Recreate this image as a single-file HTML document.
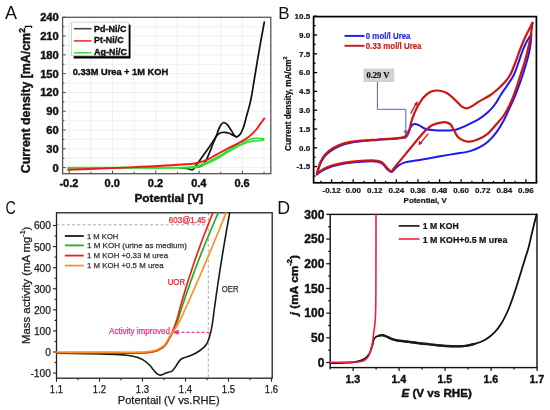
<!DOCTYPE html>
<html><head><meta charset="utf-8"><style>
html,body{margin:0;padding:0;background:#fff;}
svg{display:block;font-family:"Liberation Sans", sans-serif;will-change:transform;filter:blur(0.3px);}
</style></head><body>
<svg width="550" height="410" viewBox="0 0 550 410">
<rect width="550" height="410" fill="#fff"/>
<line x1="69.20" y1="17.30" x2="69.20" y2="173.70" stroke="#ececec" stroke-width="0.8"/>
<line x1="90.85" y1="17.30" x2="90.85" y2="173.70" stroke="#ececec" stroke-width="0.8"/>
<line x1="112.50" y1="17.30" x2="112.50" y2="173.70" stroke="#ececec" stroke-width="0.8"/>
<line x1="134.15" y1="17.30" x2="134.15" y2="173.70" stroke="#ececec" stroke-width="0.8"/>
<line x1="155.80" y1="17.30" x2="155.80" y2="173.70" stroke="#ececec" stroke-width="0.8"/>
<line x1="177.45" y1="17.30" x2="177.45" y2="173.70" stroke="#ececec" stroke-width="0.8"/>
<line x1="199.10" y1="17.30" x2="199.10" y2="173.70" stroke="#ececec" stroke-width="0.8"/>
<line x1="220.75" y1="17.30" x2="220.75" y2="173.70" stroke="#ececec" stroke-width="0.8"/>
<line x1="242.40" y1="17.30" x2="242.40" y2="173.70" stroke="#ececec" stroke-width="0.8"/>
<line x1="264.05" y1="17.30" x2="264.05" y2="173.70" stroke="#ececec" stroke-width="0.8"/>
<line x1="62.60" y1="167.60" x2="270.80" y2="167.60" stroke="#ececec" stroke-width="0.8"/>
<line x1="62.60" y1="158.21" x2="270.80" y2="158.21" stroke="#ececec" stroke-width="0.8"/>
<line x1="62.60" y1="148.81" x2="270.80" y2="148.81" stroke="#ececec" stroke-width="0.8"/>
<line x1="62.60" y1="139.42" x2="270.80" y2="139.42" stroke="#ececec" stroke-width="0.8"/>
<line x1="62.60" y1="130.02" x2="270.80" y2="130.02" stroke="#ececec" stroke-width="0.8"/>
<line x1="62.60" y1="120.63" x2="270.80" y2="120.63" stroke="#ececec" stroke-width="0.8"/>
<line x1="62.60" y1="111.23" x2="270.80" y2="111.23" stroke="#ececec" stroke-width="0.8"/>
<line x1="62.60" y1="101.84" x2="270.80" y2="101.84" stroke="#ececec" stroke-width="0.8"/>
<line x1="62.60" y1="92.44" x2="270.80" y2="92.44" stroke="#ececec" stroke-width="0.8"/>
<line x1="62.60" y1="83.05" x2="270.80" y2="83.05" stroke="#ececec" stroke-width="0.8"/>
<line x1="62.60" y1="73.66" x2="270.80" y2="73.66" stroke="#ececec" stroke-width="0.8"/>
<line x1="62.60" y1="64.26" x2="270.80" y2="64.26" stroke="#ececec" stroke-width="0.8"/>
<line x1="62.60" y1="54.87" x2="270.80" y2="54.87" stroke="#ececec" stroke-width="0.8"/>
<line x1="62.60" y1="45.47" x2="270.80" y2="45.47" stroke="#ececec" stroke-width="0.8"/>
<line x1="62.60" y1="36.08" x2="270.80" y2="36.08" stroke="#ececec" stroke-width="0.8"/>
<line x1="62.60" y1="26.68" x2="270.80" y2="26.68" stroke="#ececec" stroke-width="0.8"/>
<line x1="62.60" y1="167.60" x2="65.60" y2="167.60" stroke="#444" stroke-width="1"/>
<line x1="62.60" y1="158.21" x2="64.40" y2="158.21" stroke="#444" stroke-width="1"/>
<line x1="62.60" y1="148.81" x2="65.60" y2="148.81" stroke="#444" stroke-width="1"/>
<line x1="62.60" y1="139.42" x2="64.40" y2="139.42" stroke="#444" stroke-width="1"/>
<line x1="62.60" y1="130.02" x2="65.60" y2="130.02" stroke="#444" stroke-width="1"/>
<line x1="62.60" y1="120.63" x2="64.40" y2="120.63" stroke="#444" stroke-width="1"/>
<line x1="62.60" y1="111.23" x2="65.60" y2="111.23" stroke="#444" stroke-width="1"/>
<line x1="62.60" y1="101.84" x2="64.40" y2="101.84" stroke="#444" stroke-width="1"/>
<line x1="62.60" y1="92.44" x2="65.60" y2="92.44" stroke="#444" stroke-width="1"/>
<line x1="62.60" y1="83.05" x2="64.40" y2="83.05" stroke="#444" stroke-width="1"/>
<line x1="62.60" y1="73.66" x2="65.60" y2="73.66" stroke="#444" stroke-width="1"/>
<line x1="62.60" y1="64.26" x2="64.40" y2="64.26" stroke="#444" stroke-width="1"/>
<line x1="62.60" y1="54.87" x2="65.60" y2="54.87" stroke="#444" stroke-width="1"/>
<line x1="62.60" y1="45.47" x2="64.40" y2="45.47" stroke="#444" stroke-width="1"/>
<line x1="62.60" y1="36.08" x2="65.60" y2="36.08" stroke="#444" stroke-width="1"/>
<line x1="62.60" y1="26.68" x2="64.40" y2="26.68" stroke="#444" stroke-width="1"/>
<line x1="62.60" y1="17.29" x2="65.60" y2="17.29" stroke="#444" stroke-width="1"/>
<line x1="69.20" y1="173.70" x2="69.20" y2="170.70" stroke="#444" stroke-width="1"/>
<line x1="90.85" y1="173.70" x2="90.85" y2="171.90" stroke="#444" stroke-width="1"/>
<line x1="112.50" y1="173.70" x2="112.50" y2="170.70" stroke="#444" stroke-width="1"/>
<line x1="134.15" y1="173.70" x2="134.15" y2="171.90" stroke="#444" stroke-width="1"/>
<line x1="155.80" y1="173.70" x2="155.80" y2="170.70" stroke="#444" stroke-width="1"/>
<line x1="177.45" y1="173.70" x2="177.45" y2="171.90" stroke="#444" stroke-width="1"/>
<line x1="199.10" y1="173.70" x2="199.10" y2="170.70" stroke="#444" stroke-width="1"/>
<line x1="220.75" y1="173.70" x2="220.75" y2="171.90" stroke="#444" stroke-width="1"/>
<line x1="242.40" y1="173.70" x2="242.40" y2="170.70" stroke="#444" stroke-width="1"/>
<line x1="264.05" y1="173.70" x2="264.05" y2="171.90" stroke="#444" stroke-width="1"/>
<rect x="62.6" y="17.3" width="208.20000000000002" height="156.39999999999998" fill="none" stroke="#555" stroke-width="1.3"/>
<text x="58.80" y="171.50" font-size="11.2" fill="#111" font-weight="bold" stroke="#111" stroke-width="0.4" text-anchor="end">0</text>
<text x="58.80" y="152.71" font-size="11.2" fill="#111" font-weight="bold" stroke="#111" stroke-width="0.4" text-anchor="end">30</text>
<text x="58.80" y="133.92" font-size="11.2" fill="#111" font-weight="bold" stroke="#111" stroke-width="0.4" text-anchor="end">60</text>
<text x="58.80" y="115.13" font-size="11.2" fill="#111" font-weight="bold" stroke="#111" stroke-width="0.4" text-anchor="end">90</text>
<text x="58.80" y="96.34" font-size="11.2" fill="#111" font-weight="bold" stroke="#111" stroke-width="0.4" text-anchor="end">120</text>
<text x="58.80" y="77.56" font-size="11.2" fill="#111" font-weight="bold" stroke="#111" stroke-width="0.4" text-anchor="end">150</text>
<text x="58.80" y="58.77" font-size="11.2" fill="#111" font-weight="bold" stroke="#111" stroke-width="0.4" text-anchor="end">180</text>
<text x="58.80" y="39.98" font-size="11.2" fill="#111" font-weight="bold" stroke="#111" stroke-width="0.4" text-anchor="end">210</text>
<text x="58.80" y="21.19" font-size="11.2" fill="#111" font-weight="bold" stroke="#111" stroke-width="0.4" text-anchor="end">240</text>
<text x="68.90" y="186.90" font-size="11" fill="#111" font-weight="bold" stroke="#111" stroke-width="0.4" text-anchor="middle">-0.2</text>
<text x="112.20" y="186.90" font-size="11" fill="#111" font-weight="bold" stroke="#111" stroke-width="0.4" text-anchor="middle">0.0</text>
<text x="155.50" y="186.90" font-size="11" fill="#111" font-weight="bold" stroke="#111" stroke-width="0.4" text-anchor="middle">0.2</text>
<text x="198.80" y="186.90" font-size="11" fill="#111" font-weight="bold" stroke="#111" stroke-width="0.4" text-anchor="middle">0.4</text>
<text x="242.10" y="186.90" font-size="11" fill="#111" font-weight="bold" stroke="#111" stroke-width="0.4" text-anchor="middle">0.6</text>
<text x="134.50" y="201.80" font-size="11" fill="#111" font-weight="bold" stroke="#111" stroke-width="0.4" textLength="68.80" lengthAdjust="spacingAndGlyphs">Potential [V]</text>
<text x="30.4" y="173.2" transform="rotate(-90 30.4 173.2)" font-size="13.6" font-weight="bold" fill="#111" stroke="#111" stroke-width="0.4" textLength="147.6" lengthAdjust="spacingAndGlyphs">Current density [mA/cm<tspan font-size="9.5" dy="-5.8">2</tspan><tspan font-size="8" dy="5.8">]</tspan></text>
<rect x="73.7" y="24.6" width="56.8" height="33.9" fill="#000"/>
<rect x="71.5" y="22.2" width="56.8" height="33.6" fill="#fff" stroke="#c8c8c8" stroke-width="0.8"/>
<line x1="74.00" y1="28.70" x2="91.50" y2="28.70" stroke="#444" stroke-width="1.6"/>
<line x1="74.00" y1="40.90" x2="91.50" y2="40.90" stroke="#f03030" stroke-width="1.6"/>
<line x1="74.00" y1="52.80" x2="91.50" y2="52.80" stroke="#40e040" stroke-width="1.6"/>
<text x="94.00" y="31.50" font-size="9" fill="#111" font-weight="bold" stroke="#111" stroke-width="0.4" textLength="32.40" lengthAdjust="spacingAndGlyphs">Pd-Ni/C</text>
<text x="94.00" y="42.80" font-size="9" fill="#111" font-weight="bold" stroke="#111" stroke-width="0.4" textLength="29.60" lengthAdjust="spacingAndGlyphs">Pt-Ni/C</text>
<text x="94.00" y="54.70" font-size="9" fill="#111" font-weight="bold" stroke="#111" stroke-width="0.4" textLength="32.89" lengthAdjust="spacingAndGlyphs">Ag-Ni/C</text>
<text x="72.70" y="74.70" font-size="9.9" fill="#111" font-weight="bold" stroke="#111" stroke-width="0.4" textLength="95.40" lengthAdjust="spacingAndGlyphs">0.33M Urea + 1M KOH</text>
<text x="5.00" y="18.70" font-size="18" fill="#111">A</text>
<path d="M180.00,168.00 C182.67,168.20 185.74,168.21 188.00,168.60 C189.70,168.89 191.12,170.22 192.40,169.80 C193.84,169.32 194.79,166.75 196.00,165.20 C197.23,163.62 198.26,162.33 199.70,160.40 C201.84,157.53 205.09,153.08 207.50,149.60 C209.69,146.43 211.98,142.88 213.60,140.40 C214.69,138.73 215.33,137.39 216.30,136.20 C217.14,135.17 218.00,134.22 219.00,133.60 C219.92,133.03 221.03,132.71 222.00,132.50 C222.86,132.31 223.55,132.23 224.50,132.30 C225.79,132.39 227.53,132.77 229.00,133.30 C230.54,133.85 232.14,134.96 233.50,135.60 C234.59,136.12 235.50,136.47 236.50,136.90" fill="none" stroke="#111" stroke-width="1.7" stroke-linejoin="round" stroke-linecap="round"/>
<path d="M196.00,167.40 C198.00,166.87 200.51,166.68 202.00,165.80 C203.13,165.13 203.78,164.19 204.50,163.20 C205.26,162.16 205.72,161.09 206.40,159.70 C207.35,157.76 208.43,155.17 209.50,152.60 C210.75,149.61 212.18,145.76 213.40,142.80 C214.42,140.32 215.44,138.19 216.30,136.00 C217.09,134.00 217.63,132.06 218.40,130.20 C219.14,128.40 219.77,126.34 220.80,125.00 C221.65,123.90 222.75,122.60 223.80,122.50 C224.82,122.41 225.97,123.37 227.00,124.30 C228.41,125.58 229.77,128.13 231.00,130.00 C232.15,131.76 233.10,134.00 234.20,135.20 C234.95,136.02 235.63,136.93 236.50,136.90 C237.70,136.86 239.55,134.93 240.70,133.40 C242.04,131.62 242.83,129.05 243.70,126.60 C244.66,123.89 245.34,120.54 246.10,117.80 C246.77,115.39 247.32,113.54 248.00,111.00 C248.86,107.78 249.90,104.23 250.80,100.00 C252.00,94.34 253.08,86.67 254.20,80.00 C255.32,73.33 256.38,66.62 257.50,60.00 C258.61,53.46 259.75,46.89 260.90,40.50 C262.02,34.30 263.17,28.30 264.30,22.20" fill="none" stroke="#111" stroke-width="1.7" stroke-linejoin="round" stroke-linecap="round"/>
<path d="M68.10,167.50 C85.40,167.50 101.66,167.53 120.00,167.50 C140.68,167.47 173.68,167.93 186.00,167.30 C190.81,167.05 192.70,167.05 196.00,166.30 C199.43,165.52 202.83,164.04 206.20,162.60 C209.67,161.12 213.11,159.36 216.50,157.50 C219.95,155.60 223.29,153.35 226.70,151.30 C230.12,149.25 234.59,146.14 237.00,145.20 C238.18,144.74 238.67,145.03 239.80,144.60 C241.79,143.84 245.27,141.23 247.60,140.20 C249.35,139.42 250.77,138.92 252.40,138.60 C254.00,138.29 255.56,138.27 257.30,138.30 C259.29,138.33 261.57,138.70 263.70,138.90" fill="none" stroke="#30e030" stroke-width="1.6" stroke-linejoin="round" stroke-linecap="round"/>
<path d="M263.70,139.90 C261.57,140.27 259.30,140.81 257.30,141.00 C255.56,141.17 254.01,140.88 252.40,141.10 C250.78,141.32 249.37,141.71 247.60,142.30 C245.29,143.07 241.74,144.71 239.80,145.60 C238.62,146.14 238.22,146.35 237.00,147.00 C234.64,148.26 230.11,150.81 226.70,152.80 C223.27,154.80 219.95,157.12 216.50,159.00 C213.12,160.84 209.67,162.57 206.20,164.00 C202.83,165.39 199.43,166.86 196.00,167.50 C192.70,168.12 190.80,167.80 186.00,167.90 C173.67,168.16 140.68,167.98 120.00,168.00 C101.66,168.01 85.40,168.00 68.10,168.00" fill="none" stroke="#30e030" stroke-width="1.6" stroke-linejoin="round" stroke-linecap="round"/>
<path d="M68.10,169.80 C88.73,169.00 109.89,168.35 130.00,167.40 C149.14,166.50 174.92,165.22 186.00,164.30 C190.69,163.91 192.68,163.87 196.00,163.20 C199.41,162.52 202.86,161.58 206.20,160.20 C209.70,158.75 213.08,156.47 216.50,154.60 C219.91,152.74 223.07,150.91 226.70,149.00 C230.78,146.86 235.81,144.67 239.80,142.40 C243.33,140.39 246.66,138.47 249.50,136.20 C252.09,134.13 254.30,131.83 256.30,129.50 C258.17,127.32 259.75,124.71 261.20,122.70 C262.35,121.10 263.27,119.83 264.30,118.40" fill="none" stroke="#f01818" stroke-width="1.9" stroke-linejoin="round" stroke-linecap="round"/>
<line x1="313.60" y1="175.99" x2="315.60" y2="175.99" stroke="#000" stroke-width="1.3"/>
<line x1="313.60" y1="166.59" x2="317.10" y2="166.59" stroke="#000" stroke-width="1.3"/>
<line x1="313.60" y1="157.20" x2="315.60" y2="157.20" stroke="#000" stroke-width="1.3"/>
<line x1="313.60" y1="147.80" x2="317.10" y2="147.80" stroke="#000" stroke-width="1.3"/>
<line x1="313.60" y1="138.40" x2="315.60" y2="138.40" stroke="#000" stroke-width="1.3"/>
<line x1="313.60" y1="129.01" x2="317.10" y2="129.01" stroke="#000" stroke-width="1.3"/>
<line x1="313.60" y1="119.61" x2="315.60" y2="119.61" stroke="#000" stroke-width="1.3"/>
<line x1="313.60" y1="110.21" x2="317.10" y2="110.21" stroke="#000" stroke-width="1.3"/>
<line x1="313.60" y1="100.81" x2="315.60" y2="100.81" stroke="#000" stroke-width="1.3"/>
<line x1="313.60" y1="91.42" x2="317.10" y2="91.42" stroke="#000" stroke-width="1.3"/>
<line x1="313.60" y1="82.02" x2="315.60" y2="82.02" stroke="#000" stroke-width="1.3"/>
<line x1="313.60" y1="72.62" x2="317.10" y2="72.62" stroke="#000" stroke-width="1.3"/>
<line x1="313.60" y1="63.22" x2="315.60" y2="63.22" stroke="#000" stroke-width="1.3"/>
<line x1="313.60" y1="53.83" x2="317.10" y2="53.83" stroke="#000" stroke-width="1.3"/>
<line x1="313.60" y1="44.43" x2="315.60" y2="44.43" stroke="#000" stroke-width="1.3"/>
<line x1="313.60" y1="35.03" x2="317.10" y2="35.03" stroke="#000" stroke-width="1.3"/>
<line x1="313.60" y1="25.63" x2="315.60" y2="25.63" stroke="#000" stroke-width="1.3"/>
<line x1="313.60" y1="16.24" x2="317.10" y2="16.24" stroke="#000" stroke-width="1.3"/>
<line x1="320.82" y1="182.80" x2="320.82" y2="180.80" stroke="#000" stroke-width="1.3"/>
<line x1="331.61" y1="182.80" x2="331.61" y2="179.30" stroke="#000" stroke-width="1.3"/>
<line x1="342.41" y1="182.80" x2="342.41" y2="180.80" stroke="#000" stroke-width="1.3"/>
<line x1="353.20" y1="182.80" x2="353.20" y2="179.30" stroke="#000" stroke-width="1.3"/>
<line x1="363.99" y1="182.80" x2="363.99" y2="180.80" stroke="#000" stroke-width="1.3"/>
<line x1="374.79" y1="182.80" x2="374.79" y2="179.30" stroke="#000" stroke-width="1.3"/>
<line x1="385.58" y1="182.80" x2="385.58" y2="180.80" stroke="#000" stroke-width="1.3"/>
<line x1="396.38" y1="182.80" x2="396.38" y2="179.30" stroke="#000" stroke-width="1.3"/>
<line x1="407.17" y1="182.80" x2="407.17" y2="180.80" stroke="#000" stroke-width="1.3"/>
<line x1="417.96" y1="182.80" x2="417.96" y2="179.30" stroke="#000" stroke-width="1.3"/>
<line x1="428.76" y1="182.80" x2="428.76" y2="180.80" stroke="#000" stroke-width="1.3"/>
<line x1="439.55" y1="182.80" x2="439.55" y2="179.30" stroke="#000" stroke-width="1.3"/>
<line x1="450.35" y1="182.80" x2="450.35" y2="180.80" stroke="#000" stroke-width="1.3"/>
<line x1="461.14" y1="182.80" x2="461.14" y2="179.30" stroke="#000" stroke-width="1.3"/>
<line x1="471.93" y1="182.80" x2="471.93" y2="180.80" stroke="#000" stroke-width="1.3"/>
<line x1="482.73" y1="182.80" x2="482.73" y2="179.30" stroke="#000" stroke-width="1.3"/>
<line x1="493.52" y1="182.80" x2="493.52" y2="180.80" stroke="#000" stroke-width="1.3"/>
<line x1="504.32" y1="182.80" x2="504.32" y2="179.30" stroke="#000" stroke-width="1.3"/>
<line x1="515.11" y1="182.80" x2="515.11" y2="180.80" stroke="#000" stroke-width="1.3"/>
<line x1="525.90" y1="182.80" x2="525.90" y2="179.30" stroke="#000" stroke-width="1.3"/>
<line x1="536.70" y1="182.80" x2="536.70" y2="180.80" stroke="#000" stroke-width="1.3"/>
<rect x="313.6" y="16.6" width="222.79999999999995" height="166.20000000000002" fill="none" stroke="#000" stroke-width="1.7"/>
<text x="310.20" y="169.29" font-size="8" fill="#111" font-weight="bold" stroke="#111" stroke-width="0.2" text-anchor="end" transform-origin="0 0">-1.5</text>
<text x="310.20" y="150.50" font-size="8" fill="#111" font-weight="bold" stroke="#111" stroke-width="0.2" text-anchor="end" transform-origin="0 0">0.0</text>
<text x="310.20" y="131.71" font-size="8" fill="#111" font-weight="bold" stroke="#111" stroke-width="0.2" text-anchor="end" transform-origin="0 0">1.5</text>
<text x="310.20" y="112.91" font-size="8" fill="#111" font-weight="bold" stroke="#111" stroke-width="0.2" text-anchor="end" transform-origin="0 0">3.0</text>
<text x="310.20" y="94.12" font-size="8" fill="#111" font-weight="bold" stroke="#111" stroke-width="0.2" text-anchor="end" transform-origin="0 0">4.5</text>
<text x="310.20" y="75.32" font-size="8" fill="#111" font-weight="bold" stroke="#111" stroke-width="0.2" text-anchor="end" transform-origin="0 0">6.0</text>
<text x="310.20" y="56.53" font-size="8" fill="#111" font-weight="bold" stroke="#111" stroke-width="0.2" text-anchor="end" transform-origin="0 0">7.5</text>
<text x="310.20" y="37.73" font-size="8" fill="#111" font-weight="bold" stroke="#111" stroke-width="0.2" text-anchor="end" transform-origin="0 0">9.0</text>
<text x="310.20" y="18.94" font-size="8" fill="#111" font-weight="bold" stroke="#111" stroke-width="0.2" text-anchor="end" transform-origin="0 0">10.5</text>
<text x="331.61" y="193.00" font-size="8" fill="#111" font-weight="bold" stroke="#111" stroke-width="0.2" text-anchor="middle">-0.12</text>
<text x="353.20" y="193.00" font-size="8" fill="#111" font-weight="bold" stroke="#111" stroke-width="0.2" text-anchor="middle">0.00</text>
<text x="374.79" y="193.00" font-size="8" fill="#111" font-weight="bold" stroke="#111" stroke-width="0.2" text-anchor="middle">0.12</text>
<text x="396.38" y="193.00" font-size="8" fill="#111" font-weight="bold" stroke="#111" stroke-width="0.2" text-anchor="middle">0.24</text>
<text x="417.96" y="193.00" font-size="8" fill="#111" font-weight="bold" stroke="#111" stroke-width="0.2" text-anchor="middle">0.36</text>
<text x="439.55" y="193.00" font-size="8" fill="#111" font-weight="bold" stroke="#111" stroke-width="0.2" text-anchor="middle">0.48</text>
<text x="461.14" y="193.00" font-size="8" fill="#111" font-weight="bold" stroke="#111" stroke-width="0.2" text-anchor="middle">0.60</text>
<text x="482.73" y="193.00" font-size="8" fill="#111" font-weight="bold" stroke="#111" stroke-width="0.2" text-anchor="middle">0.72</text>
<text x="504.32" y="193.00" font-size="8" fill="#111" font-weight="bold" stroke="#111" stroke-width="0.2" text-anchor="middle">0.84</text>
<text x="525.90" y="193.00" font-size="8" fill="#111" font-weight="bold" stroke="#111" stroke-width="0.2" text-anchor="middle">0.96</text>
<text x="403.60" y="202.60" font-size="7.5" fill="#111" font-weight="bold" stroke="#111" stroke-width="0.2" textLength="43.20" lengthAdjust="spacingAndGlyphs">Potential, V</text>
<text x="290.7" y="151" transform="rotate(-90 290.7 151)" font-size="8.2" font-weight="bold" fill="#111" stroke="#111" stroke-width="0.2" textLength="94.5" lengthAdjust="spacingAndGlyphs">Current density, mA/cm<tspan font-size="5.5" dy="-3.5">2</tspan></text>
<text x="278.30" y="19.10" font-size="17" fill="#111">B</text>
<line x1="344.50" y1="35.90" x2="364.50" y2="35.90" stroke="#2020f0" stroke-width="2"/>
<line x1="344.50" y1="45.80" x2="364.50" y2="45.80" stroke="#c81e1e" stroke-width="2"/>
<text x="365.80" y="38.80" font-size="8.5" fill="#2a2af0" font-weight="bold" stroke="#2a2af0" stroke-width="0.2" textLength="44.70" lengthAdjust="spacingAndGlyphs">0 mol/l Urea</text>
<text x="365.80" y="48.80" font-size="8.5" fill="#c82020" font-weight="bold" stroke="#c82020" stroke-width="0.2" textLength="55.70" lengthAdjust="spacingAndGlyphs">0.33 mol/l Urea</text>
<rect x="363.5" y="68.5" width="30.7" height="13.5" fill="#d2d2d2"/>
<text x="366.40" y="78.40" font-size="8.8" fill="#111" font-weight="bold" stroke="#111" stroke-width="0.2" font-family='"Liberation Serif", serif' textLength="23.10" lengthAdjust="spacingAndGlyphs">0.29 V</text>
<polyline points="377.4,82 377.4,109.3 405.8,109.3 405.8,132" fill="none" stroke="#4a62d8" stroke-width="1"/>
<path d="M403.6,130.5 L405.8,135.5 L408,130.5 Z" fill="#4a62d8"/>
<path d="M316.90,174.40 C318.07,170.83 318.91,166.94 320.40,163.70 C321.76,160.73 323.19,157.98 325.30,155.60 C327.51,153.11 330.42,151.07 333.50,149.20 C336.88,147.15 340.67,145.31 344.90,144.00 C349.74,142.50 355.67,141.88 361.10,141.20 C366.53,140.52 371.94,140.31 377.50,139.90 C383.24,139.48 390.48,139.08 395.00,138.70 C397.86,138.46 400.07,138.29 402.00,138.00 C403.37,137.79 404.54,137.88 405.50,137.30 C406.47,136.72 407.05,135.76 407.80,134.50 C408.99,132.50 409.72,127.77 411.20,126.00 C412.18,124.83 413.36,124.08 414.60,123.90 C415.91,123.71 417.35,124.45 418.90,125.10 C420.96,125.96 423.22,128.15 425.70,129.00 C428.30,129.89 431.11,129.96 434.20,130.20 C437.85,130.49 442.54,130.46 446.20,130.40 C449.28,130.35 452.01,130.53 454.70,130.00 C457.27,129.49 459.54,128.42 462.00,127.40 C464.63,126.31 467.28,124.93 470.00,123.60 C472.87,122.20 475.94,120.97 478.80,119.20 C481.82,117.33 484.91,115.06 487.60,112.60 C490.28,110.15 492.73,107.42 494.90,104.50 C497.10,101.55 498.65,98.18 500.70,95.00 C502.84,91.68 505.30,88.35 507.50,85.00 C509.67,81.69 512.00,78.62 513.80,75.00 C515.71,71.15 516.98,66.67 518.50,62.50 C520.01,58.34 521.37,53.79 522.90,50.00 C524.22,46.72 525.52,43.74 527.00,41.00 C528.34,38.53 529.87,36.47 531.30,34.20" fill="none" stroke="#1a1aee" stroke-width="2.0" stroke-linejoin="round" stroke-linecap="round"/>
<path d="M531.30,34.20 C531.13,36.80 531.08,39.39 530.80,42.00 C530.52,44.66 530.19,47.05 529.60,50.00 C528.86,53.72 527.65,58.35 526.50,62.50 C525.35,66.68 523.98,71.08 522.70,75.00 C521.55,78.53 520.41,81.67 519.20,85.00 C517.98,88.34 516.86,91.46 515.40,95.00 C513.70,99.12 511.48,103.88 509.50,108.20 C507.58,112.41 505.88,116.59 503.70,120.60 C501.51,124.62 499.13,128.71 496.40,132.30 C493.75,135.79 490.71,139.25 487.60,141.90 C484.81,144.28 481.82,146.14 478.80,147.70 C475.94,149.17 473.37,150.15 470.00,151.10 C465.71,152.30 460.00,152.93 455.00,153.80 C450.00,154.67 445.47,155.35 440.00,156.30 C433.36,157.46 424.36,159.20 418.00,160.30 C413.13,161.14 408.65,161.30 405.10,162.40 C402.40,163.24 400.16,164.33 398.30,165.60 C396.75,166.66 395.69,168.06 394.50,169.20 C393.44,170.22 392.63,172.01 391.50,172.10 C390.25,172.20 388.68,170.43 387.30,169.20 C385.64,167.72 384.20,164.86 382.40,163.60 C380.89,162.54 379.66,162.10 377.50,161.70 C373.68,160.99 366.56,161.38 361.10,161.70 C355.62,162.02 350.13,162.61 344.70,163.60 C339.23,164.60 332.56,166.16 328.40,167.70 C325.64,168.72 323.80,169.82 321.80,171.00 C320.00,172.06 318.53,173.27 316.90,174.40" fill="none" stroke="#1a1aee" stroke-width="2.0" stroke-linejoin="round" stroke-linecap="round"/>
<path d="M316.90,173.40 C318.00,169.83 318.75,165.95 320.20,162.70 C321.54,159.70 322.99,156.91 325.10,154.50 C327.31,151.98 330.20,149.85 333.30,148.00 C336.67,145.99 340.47,144.31 344.70,143.10 C349.59,141.70 355.62,141.20 361.10,140.60 C366.55,140.00 371.94,139.86 377.50,139.50 C383.24,139.13 390.48,138.80 395.00,138.40 C397.86,138.15 400.17,138.03 402.00,137.60 C403.23,137.31 404.11,137.03 405.00,136.50 C405.87,135.99 406.63,135.42 407.30,134.50 C408.21,133.26 408.81,131.43 409.50,129.40 C410.45,126.59 410.91,122.61 412.10,119.10 C413.41,115.23 415.19,110.94 417.20,107.20 C419.17,103.55 421.48,99.58 424.00,96.90 C426.09,94.68 428.40,92.86 430.80,91.80 C432.99,90.84 435.29,90.42 437.70,90.50 C440.40,90.59 443.50,91.35 446.20,92.70 C449.20,94.20 452.07,97.16 454.70,99.50 C457.18,101.70 459.33,104.80 461.60,106.30 C463.32,107.43 465.00,108.40 466.70,108.40 C468.40,108.40 470.02,107.25 471.80,106.30 C474.01,105.12 476.13,103.24 478.80,101.60 C482.17,99.52 487.06,97.35 490.50,95.00 C493.52,92.95 496.02,90.73 498.50,88.50 C500.84,86.39 503.04,84.29 505.00,82.00 C506.90,79.78 508.55,77.72 510.10,75.00 C511.96,71.73 513.42,67.51 515.00,63.50 C516.69,59.20 518.12,54.56 519.90,50.00 C521.77,45.23 523.84,40.13 526.00,35.50 C528.05,31.09 530.33,27.03 532.50,22.80" fill="none" stroke="#cc1515" stroke-width="2.2" stroke-linejoin="round" stroke-linecap="round"/>
<path d="M532.50,22.80 C531.83,27.53 531.30,32.38 530.50,37.00 C529.73,41.44 528.81,45.72 527.80,50.00 C526.81,54.22 525.71,58.35 524.50,62.50 C523.28,66.68 521.76,71.07 520.50,75.00 C519.37,78.52 518.40,81.67 517.30,85.00 C516.20,88.34 515.18,91.68 513.90,95.00 C512.59,98.41 511.17,101.84 509.50,105.20 C507.78,108.67 505.91,112.29 503.70,115.50 C501.53,118.65 498.99,121.35 496.40,124.30 C493.64,127.44 490.73,131.30 487.60,133.80 C484.82,136.02 481.81,137.59 478.80,138.90 C475.94,140.15 472.23,141.30 470.00,141.60 C468.69,141.78 467.98,141.73 466.80,141.50 C465.25,141.20 463.19,140.49 461.60,139.60 C460.02,138.72 458.53,137.64 457.30,136.20 C455.92,134.59 455.04,132.18 453.90,130.20 C452.77,128.25 451.94,125.73 450.50,124.40 C449.29,123.27 447.84,122.60 446.20,122.30 C444.24,121.94 441.65,122.45 439.40,122.90 C437.08,123.37 434.70,123.97 432.50,125.10 C430.12,126.33 427.73,128.34 425.70,130.20 C423.75,131.98 422.04,134.24 420.50,136.00 C419.24,137.45 418.40,138.44 417.10,140.00 C415.29,142.16 412.83,145.20 410.70,147.80 C408.57,150.40 406.45,153.00 404.30,155.60 C402.15,158.20 399.72,161.06 397.80,163.40 C396.24,165.30 394.75,167.14 393.60,168.60 C392.77,169.64 392.40,171.17 391.50,171.30 C390.40,171.46 388.68,169.55 387.30,168.30 C385.64,166.80 384.20,163.96 382.40,162.70 C380.89,161.64 379.66,161.20 377.50,160.80 C373.68,160.09 366.56,160.48 361.10,160.80 C355.62,161.12 350.13,161.71 344.70,162.70 C339.23,163.70 332.56,165.26 328.40,166.80 C325.64,167.82 323.80,168.93 321.80,170.10 C320.01,171.15 318.53,172.30 316.90,173.40" fill="none" stroke="#cc1515" stroke-width="2.2" stroke-linejoin="round" stroke-linecap="round"/>
<line x1="410.60" y1="113.60" x2="416.40" y2="103.30" stroke="#cc1515" stroke-width="1.3"/>
<path d="M417.6,101 L413.9,104.2 L417.6,106.1 Z" fill="#cc1515"/>
<line x1="428.30" y1="133.60" x2="420.00" y2="143.60" stroke="#cc1515" stroke-width="1.3"/>
<path d="M418.6,145.3 L419.2,140.6 L422.4,143.4 Z" fill="#cc1515"/>
<line x1="56.5" y1="224.8" x2="208.3" y2="224.8" stroke="#aaa" stroke-width="1" stroke-dasharray="3,2.2"/>
<line x1="208.3" y1="212.8" x2="208.3" y2="378.2" stroke="#aaa" stroke-width="1" stroke-dasharray="3,2.2"/>
<line x1="53.00" y1="373.08" x2="56.50" y2="373.08" stroke="#222" stroke-width="1.1"/>
<line x1="54.50" y1="362.54" x2="56.50" y2="362.54" stroke="#222" stroke-width="1.1"/>
<line x1="53.00" y1="352.00" x2="56.50" y2="352.00" stroke="#222" stroke-width="1.1"/>
<line x1="54.50" y1="341.46" x2="56.50" y2="341.46" stroke="#222" stroke-width="1.1"/>
<line x1="53.00" y1="330.92" x2="56.50" y2="330.92" stroke="#222" stroke-width="1.1"/>
<line x1="54.50" y1="320.38" x2="56.50" y2="320.38" stroke="#222" stroke-width="1.1"/>
<line x1="53.00" y1="309.84" x2="56.50" y2="309.84" stroke="#222" stroke-width="1.1"/>
<line x1="54.50" y1="299.30" x2="56.50" y2="299.30" stroke="#222" stroke-width="1.1"/>
<line x1="53.00" y1="288.76" x2="56.50" y2="288.76" stroke="#222" stroke-width="1.1"/>
<line x1="54.50" y1="278.22" x2="56.50" y2="278.22" stroke="#222" stroke-width="1.1"/>
<line x1="53.00" y1="267.68" x2="56.50" y2="267.68" stroke="#222" stroke-width="1.1"/>
<line x1="54.50" y1="257.14" x2="56.50" y2="257.14" stroke="#222" stroke-width="1.1"/>
<line x1="53.00" y1="246.60" x2="56.50" y2="246.60" stroke="#222" stroke-width="1.1"/>
<line x1="54.50" y1="236.06" x2="56.50" y2="236.06" stroke="#222" stroke-width="1.1"/>
<line x1="53.00" y1="225.52" x2="56.50" y2="225.52" stroke="#222" stroke-width="1.1"/>
<line x1="56.50" y1="378.20" x2="56.50" y2="381.70" stroke="#222" stroke-width="1.1"/>
<line x1="78.00" y1="378.20" x2="78.00" y2="380.20" stroke="#222" stroke-width="1.1"/>
<line x1="99.50" y1="378.20" x2="99.50" y2="381.70" stroke="#222" stroke-width="1.1"/>
<line x1="121.00" y1="378.20" x2="121.00" y2="380.20" stroke="#222" stroke-width="1.1"/>
<line x1="142.50" y1="378.20" x2="142.50" y2="381.70" stroke="#222" stroke-width="1.1"/>
<line x1="164.00" y1="378.20" x2="164.00" y2="380.20" stroke="#222" stroke-width="1.1"/>
<line x1="185.50" y1="378.20" x2="185.50" y2="381.70" stroke="#222" stroke-width="1.1"/>
<line x1="207.00" y1="378.20" x2="207.00" y2="380.20" stroke="#222" stroke-width="1.1"/>
<line x1="228.50" y1="378.20" x2="228.50" y2="381.70" stroke="#222" stroke-width="1.1"/>
<line x1="250.00" y1="378.20" x2="250.00" y2="380.20" stroke="#222" stroke-width="1.1"/>
<line x1="271.50" y1="378.20" x2="271.50" y2="381.70" stroke="#222" stroke-width="1.1"/>
<rect x="56.5" y="212.8" width="215.7" height="165.39999999999998" fill="none" stroke="#222" stroke-width="1.3"/>
<text x="51.00" y="376.98" font-size="10.8" fill="#1a1a1a" stroke="#1a1a1a" stroke-width="0.25" text-anchor="end" textLength="20.54" lengthAdjust="spacingAndGlyphs">-100</text>
<text x="51.00" y="355.90" font-size="10.8" fill="#1a1a1a" stroke="#1a1a1a" stroke-width="0.25" text-anchor="end" textLength="5.71" lengthAdjust="spacingAndGlyphs">0</text>
<text x="51.00" y="334.82" font-size="10.8" fill="#1a1a1a" stroke="#1a1a1a" stroke-width="0.25" text-anchor="end" textLength="17.12" lengthAdjust="spacingAndGlyphs">100</text>
<text x="51.00" y="313.74" font-size="10.8" fill="#1a1a1a" stroke="#1a1a1a" stroke-width="0.25" text-anchor="end" textLength="17.12" lengthAdjust="spacingAndGlyphs">200</text>
<text x="51.00" y="292.66" font-size="10.8" fill="#1a1a1a" stroke="#1a1a1a" stroke-width="0.25" text-anchor="end" textLength="17.12" lengthAdjust="spacingAndGlyphs">300</text>
<text x="51.00" y="271.58" font-size="10.8" fill="#1a1a1a" stroke="#1a1a1a" stroke-width="0.25" text-anchor="end" textLength="17.12" lengthAdjust="spacingAndGlyphs">400</text>
<text x="51.00" y="250.50" font-size="10.8" fill="#1a1a1a" stroke="#1a1a1a" stroke-width="0.25" text-anchor="end" textLength="17.12" lengthAdjust="spacingAndGlyphs">500</text>
<text x="51.00" y="229.42" font-size="10.8" fill="#1a1a1a" stroke="#1a1a1a" stroke-width="0.25" text-anchor="end" textLength="17.12" lengthAdjust="spacingAndGlyphs">600</text>
<text x="56.50" y="393.10" font-size="10.6" fill="#1a1a1a" stroke="#1a1a1a" stroke-width="0.25" text-anchor="middle" textLength="13.26" lengthAdjust="spacingAndGlyphs">1.1</text>
<text x="99.50" y="393.10" font-size="10.6" fill="#1a1a1a" stroke="#1a1a1a" stroke-width="0.25" text-anchor="middle" textLength="13.26" lengthAdjust="spacingAndGlyphs">1.2</text>
<text x="142.50" y="393.10" font-size="10.6" fill="#1a1a1a" stroke="#1a1a1a" stroke-width="0.25" text-anchor="middle" textLength="13.26" lengthAdjust="spacingAndGlyphs">1.3</text>
<text x="185.50" y="393.10" font-size="10.6" fill="#1a1a1a" stroke="#1a1a1a" stroke-width="0.25" text-anchor="middle" textLength="13.26" lengthAdjust="spacingAndGlyphs">1.4</text>
<text x="228.50" y="393.10" font-size="10.6" fill="#1a1a1a" stroke="#1a1a1a" stroke-width="0.25" text-anchor="middle" textLength="13.26" lengthAdjust="spacingAndGlyphs">1.5</text>
<text x="271.50" y="393.10" font-size="10.6" fill="#1a1a1a" stroke="#1a1a1a" stroke-width="0.25" text-anchor="middle" textLength="13.26" lengthAdjust="spacingAndGlyphs">1.6</text>
<text x="117.80" y="404.20" font-size="11.2" fill="#1a1a1a" stroke="#1a1a1a" stroke-width="0.25" textLength="101.80" lengthAdjust="spacingAndGlyphs">Potentail (V vs.RHE)</text>
<text x="29.6" y="343.9" transform="rotate(-90 29.6 343.9)" font-size="11.2" fill="#1a1a1a" stroke="#1a1a1a" stroke-width="0.25" textLength="117.3" lengthAdjust="spacingAndGlyphs">Mass activity (mA mg<tspan font-size="7" dy="-4.5">-1</tspan><tspan dy="4.5">)</tspan></text>
<text x="5.40" y="214.30" font-size="17.5" fill="#111" textLength="10.40" lengthAdjust="spacingAndGlyphs">C</text>
<line x1="64.90" y1="236.00" x2="83.80" y2="236.00" stroke="#1a1a1a" stroke-width="1.8"/>
<line x1="64.90" y1="245.40" x2="83.80" y2="245.40" stroke="#20b020" stroke-width="1.8"/>
<line x1="64.90" y1="255.60" x2="83.80" y2="255.60" stroke="#f02020" stroke-width="1.8"/>
<line x1="64.90" y1="265.60" x2="83.80" y2="265.60" stroke="#ff9020" stroke-width="1.8"/>
<text x="87.00" y="238.60" font-size="8.1" fill="#333" stroke="#333" stroke-width="0.25" textLength="31.30" lengthAdjust="spacingAndGlyphs">1 M KOH</text>
<text x="87.00" y="248.40" font-size="8.1" fill="#333" stroke="#333" stroke-width="0.25" textLength="99.90" lengthAdjust="spacingAndGlyphs">1 M KOH (urine as medium)</text>
<text x="87.00" y="258.00" font-size="8.1" fill="#333" stroke="#333" stroke-width="0.25" textLength="81.00" lengthAdjust="spacingAndGlyphs">1 M KOH +0.33 M urea</text>
<text x="87.00" y="267.70" font-size="8.1" fill="#333" stroke="#333" stroke-width="0.25" textLength="76.60" lengthAdjust="spacingAndGlyphs">1 M KOH +0.5 M urea</text>
<text x="168.80" y="222.80" font-size="8.6" fill="#f02030" stroke="#f02030" stroke-width="0.25" textLength="37.00" lengthAdjust="spacingAndGlyphs">603@1.45</text>
<text x="167.70" y="285.30" font-size="8.4" fill="#f02030" stroke="#f02030" stroke-width="0.25" textLength="17.40" lengthAdjust="spacingAndGlyphs">UOR</text>
<text x="221.80" y="292.00" font-size="8.4" fill="#333" stroke="#333" stroke-width="0.25" textLength="16.80" lengthAdjust="spacingAndGlyphs">OER</text>
<text x="109.10" y="334.30" font-size="8.4" fill="#f0308c" stroke="#f0308c" stroke-width="0.25" textLength="60.80" lengthAdjust="spacingAndGlyphs">Activity improved</text>
<path d="M57.00,353.30 C71.33,353.53 88.38,353.73 100.00,354.00 C107.93,354.18 114.19,354.17 120.00,354.60 C124.52,354.93 128.70,355.37 132.00,356.00 C134.36,356.45 136.14,356.96 138.00,357.60 C139.68,358.18 141.07,358.64 142.70,359.60 C144.79,360.82 147.42,362.87 149.30,364.70 C151.00,366.36 152.22,368.43 153.60,370.00 C154.77,371.34 155.80,372.73 157.00,373.60 C158.02,374.34 159.11,375.01 160.20,375.10 C161.27,375.19 162.34,374.60 163.50,374.20 C164.85,373.73 166.44,372.84 167.80,372.40 C168.96,372.02 170.14,372.10 171.10,371.60 C172.03,371.12 172.77,370.28 173.50,369.50 C174.24,368.71 174.73,367.98 175.50,366.90 C176.69,365.24 178.33,361.95 179.80,360.40 C180.85,359.29 181.86,358.55 183.00,358.00 C184.07,357.48 185.14,357.50 186.40,357.10 C188.05,356.57 190.18,355.80 192.00,355.00 C193.81,354.20 195.50,353.44 197.30,352.30 C199.42,350.96 202.19,348.80 203.80,347.30 C204.89,346.29 205.58,345.56 206.30,344.50 C207.06,343.37 207.62,342.12 208.20,340.70 C208.88,339.02 209.46,336.96 210.00,335.00 C210.56,332.96 211.05,330.98 211.50,328.70 C212.03,326.04 212.46,323.00 212.90,320.00 C213.37,316.79 213.75,313.33 214.20,310.00 C214.65,306.67 215.13,303.33 215.60,300.00 C216.07,296.67 216.52,293.33 217.00,290.00 C217.48,286.67 218.00,283.33 218.50,280.00 C219.00,276.67 219.48,273.33 220.00,270.00 C220.52,266.67 221.07,263.33 221.60,260.00 C222.13,256.67 222.65,253.33 223.20,250.00 C223.75,246.67 224.33,243.33 224.90,240.00 C225.47,236.67 226.02,233.33 226.60,230.00 C227.18,226.67 227.85,223.06 228.40,220.00 C228.87,217.40 229.27,215.20 229.70,212.80" fill="none" stroke="#1a1a1a" stroke-width="1.6" stroke-linejoin="round" stroke-linecap="round"/>
<path d="M57.00,352.80 C71.33,352.83 85.93,352.87 100.00,352.90 C113.57,352.93 132.56,353.18 140.00,353.00 C142.88,352.93 144.00,352.88 146.00,352.70 C148.00,352.52 150.07,352.28 152.00,351.90 C153.83,351.54 155.72,351.11 157.30,350.50 C158.68,349.97 159.82,349.35 161.00,348.60 C162.22,347.83 163.49,346.92 164.50,345.90 C165.48,344.91 166.25,343.79 167.00,342.60 C167.79,341.36 168.39,339.89 169.10,338.60 C169.79,337.36 170.54,336.20 171.20,335.00 C171.84,333.83 172.29,333.02 173.00,331.50 C174.26,328.79 176.43,323.73 177.80,320.00 C179.06,316.58 179.92,313.33 181.00,310.00 C182.08,306.66 183.18,303.33 184.30,300.00 C185.42,296.66 186.54,293.33 187.70,290.00 C188.87,286.66 190.10,283.33 191.30,280.00 C192.50,276.67 193.67,273.33 194.90,270.00 C196.14,266.66 197.42,263.33 198.70,260.00 C199.98,256.66 201.27,253.33 202.60,250.00 C203.94,246.66 205.32,243.33 206.70,240.00 C208.08,236.66 209.50,233.33 210.90,230.00 C212.30,226.67 213.78,223.05 215.10,220.00 C216.22,217.40 217.23,215.20 218.30,212.80" fill="none" stroke="#20b020" stroke-width="1.7" stroke-linejoin="round" stroke-linecap="round"/>
<path d="M57.00,352.80 C71.33,352.83 85.93,352.87 100.00,352.90 C113.57,352.93 132.56,353.18 140.00,353.00 C142.88,352.93 144.00,352.88 146.00,352.70 C148.00,352.52 150.07,352.28 152.00,351.90 C153.83,351.54 155.72,351.11 157.30,350.50 C158.68,349.97 159.82,349.35 161.00,348.60 C162.22,347.83 163.49,346.92 164.50,345.90 C165.48,344.91 166.25,343.79 167.00,342.60 C167.79,341.36 168.39,339.89 169.10,338.60 C169.79,337.36 170.61,336.21 171.20,335.00 C171.76,333.85 172.02,333.01 172.60,331.50 C173.64,328.78 175.62,323.72 176.80,320.00 C177.89,316.57 178.58,313.33 179.50,310.00 C180.42,306.66 181.33,303.33 182.30,300.00 C183.27,296.66 184.28,293.33 185.30,290.00 C186.32,286.66 187.33,283.33 188.40,280.00 C189.47,276.66 190.60,273.33 191.70,270.00 C192.80,266.67 193.85,263.33 195.00,260.00 C196.15,256.66 197.40,253.33 198.60,250.00 C199.80,246.67 200.95,243.33 202.20,240.00 C203.45,236.66 204.80,233.33 206.10,230.00 C207.40,226.67 208.79,223.06 210.00,220.00 C211.03,217.40 211.93,215.20 212.90,212.80" fill="none" stroke="#f02020" stroke-width="1.7" stroke-linejoin="round" stroke-linecap="round"/>
<path d="M56.80,352.00 C71.13,352.03 85.73,352.07 99.80,352.10 C113.37,352.13 132.36,352.38 139.80,352.20 C142.68,352.13 143.80,352.08 145.80,351.90 C147.80,351.72 149.87,351.48 151.80,351.10 C153.63,350.74 155.52,350.31 157.10,349.70 C158.48,349.17 159.62,348.55 160.80,347.80 C162.02,347.03 163.29,346.12 164.30,345.10 C165.28,344.11 166.05,342.99 166.80,341.80 C167.59,340.56 168.19,339.09 168.90,337.80 C169.59,336.56 170.23,335.28 171.00,334.20 C171.71,333.20 172.39,332.76 173.30,331.50 C175.07,329.04 178.22,323.75 180.20,320.00 C181.99,316.60 183.28,313.34 184.80,310.00 C186.32,306.67 187.82,303.34 189.30,300.00 C190.78,296.67 192.23,293.33 193.70,290.00 C195.17,286.67 196.65,283.34 198.10,280.00 C199.55,276.67 200.97,273.33 202.40,270.00 C203.83,266.67 205.28,263.34 206.70,260.00 C208.12,256.67 209.52,253.34 210.90,250.00 C212.28,246.67 213.63,243.33 215.00,240.00 C216.37,236.67 217.73,233.33 219.10,230.00 C220.47,226.67 221.98,223.07 223.20,220.00 C224.24,217.41 225.07,215.20 226.00,212.80" fill="none" stroke="#ff9020" stroke-width="1.7" stroke-linejoin="round" stroke-linecap="round"/>
<line x1="209.5" y1="332.3" x2="177" y2="332.3" stroke="#f0308c" stroke-width="1.3" stroke-dasharray="3,2"/>
<path d="M172.8,332.3 L178.5,329.6 L178.5,335 Z" fill="#f0308c"/>
<line x1="326.20" y1="362.50" x2="330.20" y2="362.50" stroke="#111" stroke-width="1.2"/>
<line x1="328.20" y1="350.16" x2="330.20" y2="350.16" stroke="#111" stroke-width="1.2"/>
<line x1="326.20" y1="337.81" x2="330.20" y2="337.81" stroke="#111" stroke-width="1.2"/>
<line x1="328.20" y1="325.47" x2="330.20" y2="325.47" stroke="#111" stroke-width="1.2"/>
<line x1="326.20" y1="313.13" x2="330.20" y2="313.13" stroke="#111" stroke-width="1.2"/>
<line x1="328.20" y1="300.79" x2="330.20" y2="300.79" stroke="#111" stroke-width="1.2"/>
<line x1="326.20" y1="288.44" x2="330.20" y2="288.44" stroke="#111" stroke-width="1.2"/>
<line x1="328.20" y1="276.10" x2="330.20" y2="276.10" stroke="#111" stroke-width="1.2"/>
<line x1="326.20" y1="263.76" x2="330.20" y2="263.76" stroke="#111" stroke-width="1.2"/>
<line x1="328.20" y1="251.42" x2="330.20" y2="251.42" stroke="#111" stroke-width="1.2"/>
<line x1="326.20" y1="239.07" x2="330.20" y2="239.07" stroke="#111" stroke-width="1.2"/>
<line x1="328.20" y1="226.73" x2="330.20" y2="226.73" stroke="#111" stroke-width="1.2"/>
<line x1="326.20" y1="214.39" x2="330.20" y2="214.39" stroke="#111" stroke-width="1.2"/>
<line x1="330.10" y1="367.60" x2="330.10" y2="369.60" stroke="#111" stroke-width="1.2"/>
<line x1="353.10" y1="367.60" x2="353.10" y2="371.10" stroke="#111" stroke-width="1.2"/>
<line x1="376.10" y1="367.60" x2="376.10" y2="369.60" stroke="#111" stroke-width="1.2"/>
<line x1="399.10" y1="367.60" x2="399.10" y2="371.10" stroke="#111" stroke-width="1.2"/>
<line x1="422.10" y1="367.60" x2="422.10" y2="369.60" stroke="#111" stroke-width="1.2"/>
<line x1="445.10" y1="367.60" x2="445.10" y2="371.10" stroke="#111" stroke-width="1.2"/>
<line x1="468.10" y1="367.60" x2="468.10" y2="369.60" stroke="#111" stroke-width="1.2"/>
<line x1="491.10" y1="367.60" x2="491.10" y2="371.10" stroke="#111" stroke-width="1.2"/>
<line x1="514.10" y1="367.60" x2="514.10" y2="369.60" stroke="#111" stroke-width="1.2"/>
<line x1="537.10" y1="367.60" x2="537.10" y2="371.10" stroke="#111" stroke-width="1.2"/>
<rect x="330.2" y="214.4" width="206.8" height="153.20000000000002" fill="none" stroke="#111" stroke-width="1.4"/>
<text x="324.40" y="366.80" font-size="12" fill="#111" font-weight="bold" stroke="#111" stroke-width="0.4" text-anchor="end">0</text>
<text x="324.40" y="342.12" font-size="12" fill="#111" font-weight="bold" stroke="#111" stroke-width="0.4" text-anchor="end">50</text>
<text x="324.40" y="317.43" font-size="12" fill="#111" font-weight="bold" stroke="#111" stroke-width="0.4" text-anchor="end">100</text>
<text x="324.40" y="292.75" font-size="12" fill="#111" font-weight="bold" stroke="#111" stroke-width="0.4" text-anchor="end">150</text>
<text x="324.40" y="268.06" font-size="12" fill="#111" font-weight="bold" stroke="#111" stroke-width="0.4" text-anchor="end">200</text>
<text x="324.40" y="243.38" font-size="12" fill="#111" font-weight="bold" stroke="#111" stroke-width="0.4" text-anchor="end">250</text>
<text x="324.40" y="218.69" font-size="12" fill="#111" font-weight="bold" stroke="#111" stroke-width="0.4" text-anchor="end">300</text>
<text x="352.80" y="382.50" font-size="11.6" fill="#111" font-weight="bold" stroke="#111" stroke-width="0.4" text-anchor="middle" textLength="14.84" lengthAdjust="spacingAndGlyphs">1.3</text>
<text x="398.80" y="382.50" font-size="11.6" fill="#111" font-weight="bold" stroke="#111" stroke-width="0.4" text-anchor="middle" textLength="14.84" lengthAdjust="spacingAndGlyphs">1.4</text>
<text x="444.80" y="382.50" font-size="11.6" fill="#111" font-weight="bold" stroke="#111" stroke-width="0.4" text-anchor="middle" textLength="14.84" lengthAdjust="spacingAndGlyphs">1.5</text>
<text x="490.80" y="382.50" font-size="11.6" fill="#111" font-weight="bold" stroke="#111" stroke-width="0.4" text-anchor="middle" textLength="14.84" lengthAdjust="spacingAndGlyphs">1.6</text>
<text x="536.80" y="382.50" font-size="11.6" fill="#111" font-weight="bold" stroke="#111" stroke-width="0.4" text-anchor="middle" textLength="14.84" lengthAdjust="spacingAndGlyphs">1.7</text>
<text x="401.5" y="397" font-size="10.6" font-weight="bold" fill="#111" stroke="#111" stroke-width="0.4" textLength="70.4" lengthAdjust="spacingAndGlyphs"><tspan font-style="italic">E</tspan> (V vs RHE)</text>
<text x="298.0" y="315.4" transform="rotate(-90 298.0 315.4)" font-size="11" font-weight="bold" fill="#111" stroke="#111" stroke-width="0.4" textLength="60.4" lengthAdjust="spacingAndGlyphs"><tspan font-style="italic">j</tspan> (mA cm<tspan font-size="7" dy="-5.5">-2</tspan><tspan dy="5.5">)</tspan></text>
<text x="277.20" y="214.00" font-size="17.8" fill="#111">D</text>
<line x1="398.70" y1="225.90" x2="419.50" y2="225.90" stroke="#111" stroke-width="1.6"/>
<line x1="398.70" y1="239.00" x2="419.50" y2="239.00" stroke="#f0203c" stroke-width="1.6"/>
<text x="422.70" y="229.20" font-size="8.5" fill="#111" font-weight="bold" stroke="#111" stroke-width="0.2" textLength="36.00" lengthAdjust="spacingAndGlyphs">1 M KOH</text>
<text x="422.70" y="242.60" font-size="8.5" fill="#111" font-weight="bold" stroke="#111" stroke-width="0.2" textLength="84.70" lengthAdjust="spacingAndGlyphs">1 M KOH+0.5 M urea</text>
<path d="M330.50,363.20 C337.90,362.93 347.37,363.05 352.70,362.40 C355.74,362.03 357.69,361.58 359.80,360.90 C361.59,360.33 363.17,359.73 364.60,358.80 C366.00,357.89 367.29,356.75 368.30,355.40 C369.35,354.00 370.01,352.21 370.70,350.50 C371.41,348.74 371.98,346.84 372.50,345.00 C373.01,343.18 373.14,340.91 373.80,339.50 C374.28,338.47 374.78,337.73 375.60,337.10 C376.54,336.37 378.11,335.91 379.30,335.60 C380.33,335.33 381.22,335.11 382.30,335.20 C383.62,335.31 385.14,335.93 386.60,336.50 C388.21,337.13 389.85,338.26 391.50,338.90 C393.08,339.51 394.27,339.88 396.30,340.30 C399.68,341.00 405.00,341.39 410.00,342.00 C416.04,342.74 423.70,343.71 430.00,344.40 C435.63,345.02 440.84,345.69 446.00,346.00 C450.82,346.29 456.14,346.45 460.00,346.30 C462.74,346.19 464.63,345.98 467.00,345.60 C469.49,345.20 471.94,344.70 474.60,343.90 C477.69,342.98 481.26,341.93 484.40,340.20 C487.78,338.34 491.25,335.73 494.10,332.90 C496.95,330.06 499.20,326.89 501.50,323.20 C504.16,318.92 506.61,313.64 508.80,308.50 C511.10,303.10 512.93,297.38 514.90,291.50 C517.00,285.24 519.08,278.17 521.00,272.00 C522.73,266.43 524.55,260.43 525.90,256.10 C526.84,253.10 527.49,251.45 528.30,248.50 C529.41,244.48 530.65,238.50 531.70,234.10 C532.59,230.38 533.38,227.15 534.20,223.80 C534.98,220.59 535.73,217.53 536.50,214.40" fill="none" stroke="#111" stroke-width="1.8" stroke-linejoin="round" stroke-linecap="round"/>
<path d="M379.30,335.60 C380.30,335.47 381.22,335.11 382.30,335.20 C383.62,335.31 385.14,335.93 386.60,336.50 C388.21,337.13 389.85,338.26 391.50,338.90 C393.08,339.51 394.27,339.88 396.30,340.30 C399.68,341.00 405.00,341.39 410.00,342.00 C416.04,342.74 423.70,343.71 430.00,344.40 C435.63,345.02 440.84,345.69 446.00,346.00 C450.82,346.29 456.14,346.45 460.00,346.30 C462.74,346.19 464.63,345.98 467.00,345.60 C469.49,345.20 472.07,344.47 474.60,343.90" fill="none" stroke="#1a1a1a" stroke-width="2.4" stroke-linejoin="round" stroke-linecap="round"/>
<path d="M330.50,362.40 C337.00,362.30 344.61,362.25 350.00,362.10 C353.82,361.99 357.13,362.16 359.80,361.70 C361.71,361.37 363.19,361.04 364.60,360.20 C366.03,359.35 367.31,358.08 368.30,356.60 C369.41,354.93 370.02,352.73 370.70,350.50 C371.49,347.93 372.09,344.95 372.60,342.00 C373.14,338.86 373.41,335.23 373.80,332.20 C374.14,329.59 374.53,327.52 374.80,324.90 C375.12,321.86 375.32,319.05 375.50,315.00 C375.78,308.57 375.81,300.58 375.90,290.00 C376.06,271.60 375.97,239.60 376.00,214.40" fill="none" stroke="#f0203c" stroke-width="1.6" stroke-linejoin="round" stroke-linecap="round"/>
</svg>
</body></html>
